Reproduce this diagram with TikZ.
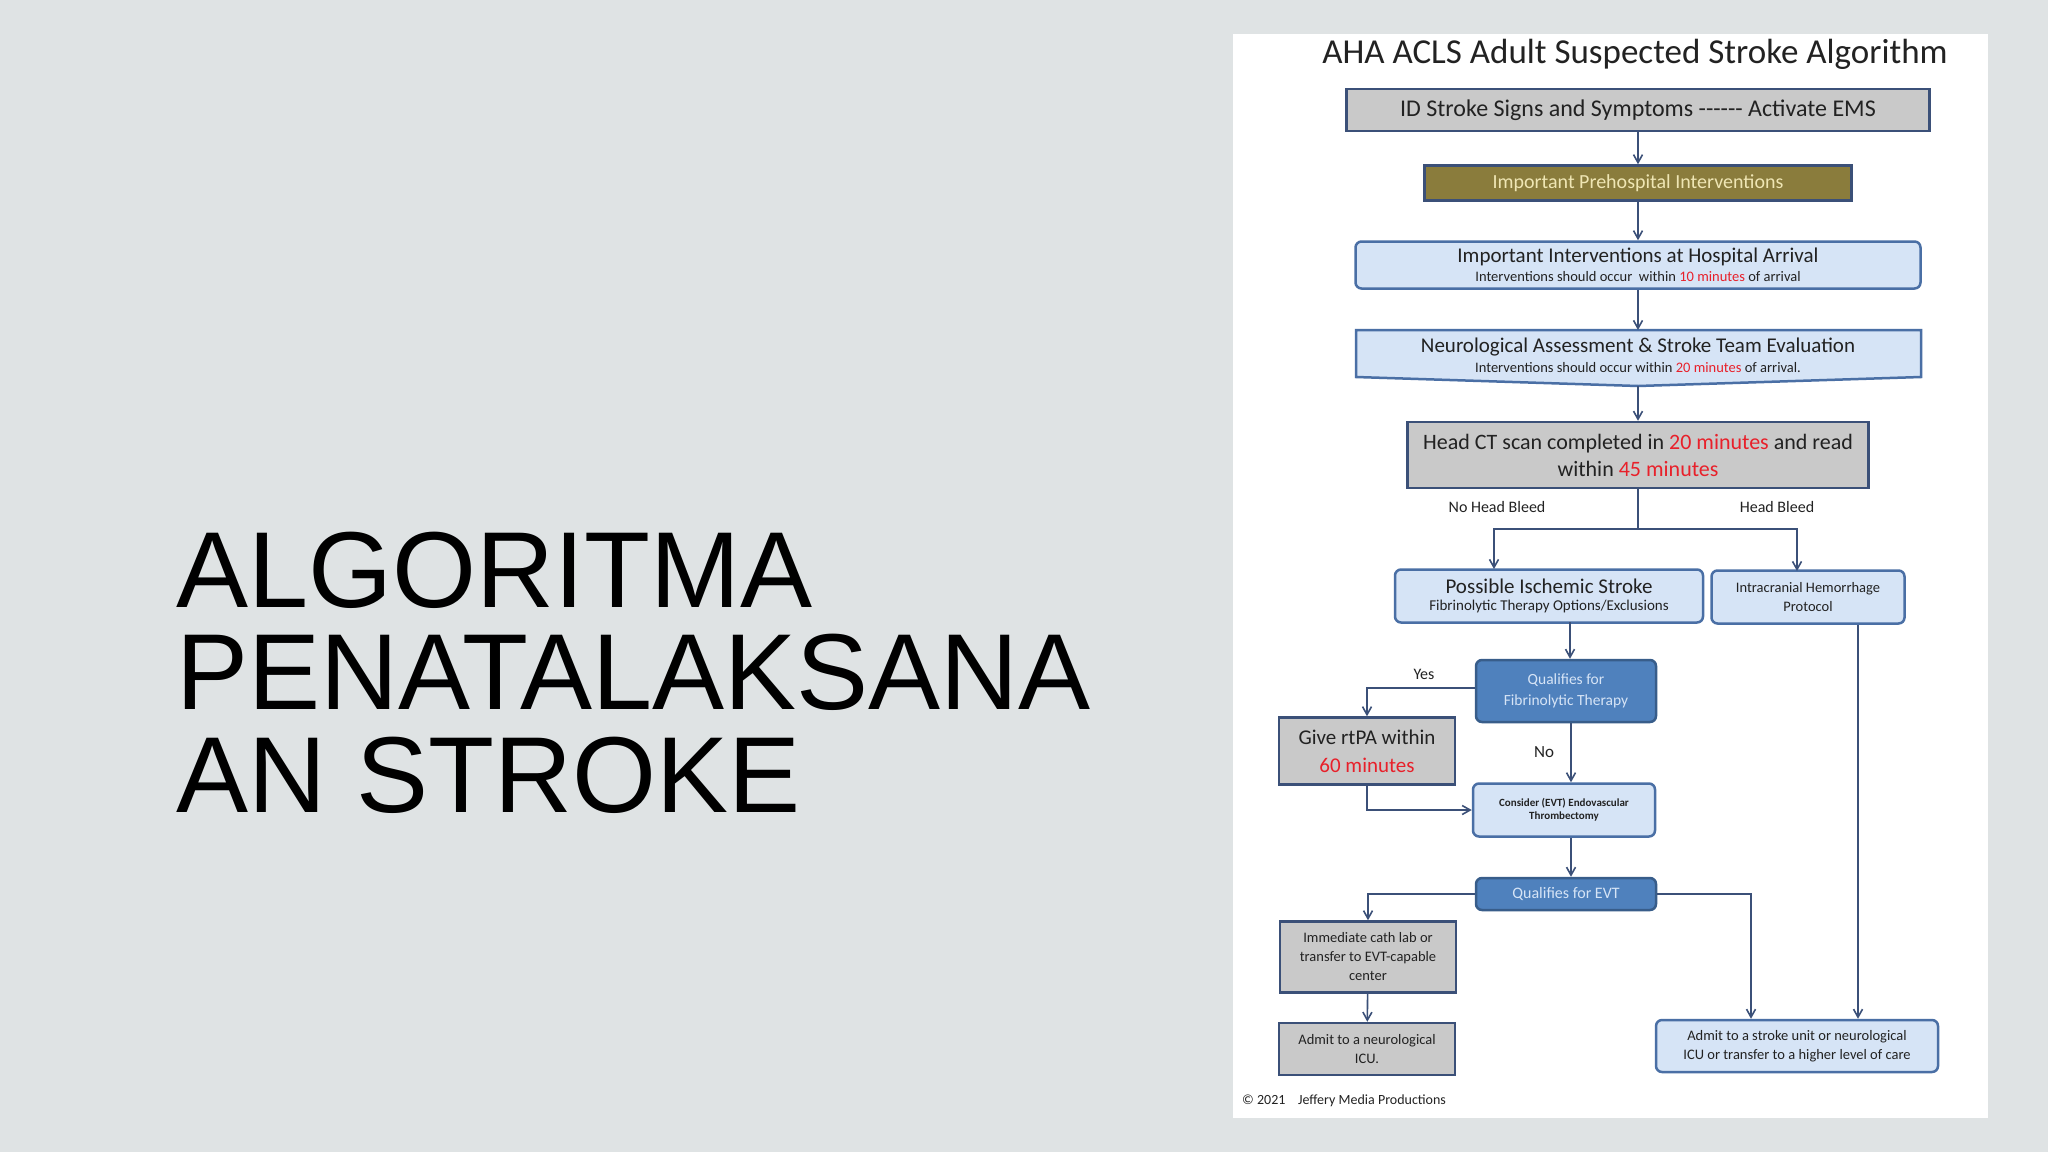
\documentclass[tikz,border=0pt]{standalone}
\usepackage{fontspec}
\setmainfont{Carlito}
\newfontfamily\arialf{Liberation Sans}
\usetikzlibrary{arrows.meta}
\definecolor{bgc}{HTML}{DFE3E4}
\definecolor{grayf}{HTML}{C9C9C9}
\definecolor{bordc}{HTML}{3B5078}
\definecolor{lblue}{HTML}{D6E4F6}
\definecolor{lbord}{HTML}{4A6FA5}
\definecolor{dblue}{HTML}{4F81BD}
\definecolor{dbord}{HTML}{385D8A}
\definecolor{olive}{HTML}{8A7C3C}
\definecolor{olivet}{HTML}{EFE6B4}
\definecolor{redt}{HTML}{E8202A}
\definecolor{dtext}{HTML}{222222}
\tikzset{
 x=1pt,y=-1pt,
 bx/.style={draw=bordc,line width=2.5pt,inner sep=2pt,align=center,text=dtext},
 graybox/.style={bx,fill=grayf},
 lbbox/.style={bx,fill=lblue,draw=lbord,rounded corners=6pt},
 dbbox/.style={bx,fill=dblue,draw=dbord,rounded corners=6pt,text=lblue},
 conn/.style={draw=bordc,line width=1.6pt,-{Straight Barb[length=8pt,width=9pt]}},
 lbl/.style={font=\fontsize{16}{18}\selectfont,text=dtext,inner sep=0pt},
}
\newcommand{\rd}[1]{\textcolor{redt}{#1}}
\begin{document}
\begin{tikzpicture}
\fill[bgc] (0,0) rectangle (2048,1152);
\useasboundingbox (0,0) rectangle (2048,1152);
\fill[white] (1233,34) rectangle (1988,1118);
% big title
\node[anchor=base west,inner sep=0pt,font=\arialf\fontsize{108}{108}\selectfont] (t1) at (176,607) {ALGORITMA};
\node[anchor=base west,inner sep=0pt,font=\arialf\fontsize{108}{108}\selectfont] (t2) at (176,709) {PENATALAKSANA};
\node[anchor=base west,inner sep=0pt,font=\arialf\fontsize{108}{108}\selectfont] (t3) at (176,812) {AN STROKE};
% diagram title
\node[font=\fontsize{35}{36}\selectfont,text=dtext] (dt) at (1635,54) {AHA ACLS Adult Suspected Stroke Algorithm};
% boxes
\node[graybox,minimum width=583,minimum height=42,font=\fontsize{24}{25}\selectfont] (b1) at (1638,110) {ID Stroke Signs and Symptoms {-}{-}{-}{-}{-}{-} Activate EMS};
\node[bx,fill=olive,draw=bordc,text=olivet,minimum width=427,minimum height=35,font=\fontsize{20}{21}\selectfont] (b2) at (1638,183) {Important Prehospital Interventions};
\node[lbbox,minimum width=565,minimum height=47] (b3) at (1638,265) {\fontsize{21}{22}\selectfont Important Interventions at Hospital Arrival\\[5pt]\fontsize{14.5}{15}\selectfont Interventions should occur\ \ within \rd{10 minutes} of arrival};
\path[fill=lblue,draw=lbord,line width=2.5pt] (1356,330) -- (1921,330) -- (1921,377) -- (1638,386) -- (1356,377) -- cycle;
\node[inner sep=0pt,align=center,text=dtext] (b4) at (1638,355) {\fontsize{21}{22}\selectfont Neurological Assessment \& Stroke Team Evaluation\\[5pt]\fontsize{14.5}{15}\selectfont Interventions should occur within \rd{20 minutes} of arrival.};
\node[graybox,minimum width=461,minimum height=66,font=\fontsize{22}{27}\selectfont] (b5) at (1638,455) {Head CT scan completed in \rd{20 minutes} and read\\within \rd{45 minutes}};
\node[lbl] (nhb) at (1497,507) {No Head Bleed};
\node[lbl] (hb) at (1777,507) {Head Bleed};
\node[lbbox,minimum width=308,minimum height=53] (b6) at (1549,596) {\fontsize{21}{22}\selectfont Possible Ischemic Stroke\\[5pt]\fontsize{15}{16}\selectfont Fibrinolytic Therapy Options/Exclusions};
\node[lbbox,minimum width=193,minimum height=53,font=\fontsize{14.5}{19}\selectfont] (b7) at (1808,597) {Intracranial Hemorrhage\\Protocol};
\node[dbbox,minimum width=180,minimum height=62,font=\fontsize{15.5}{21}\selectfont] (b8) at (1566,691) {Qualifies for\\Fibrinolytic Therapy};
\node[lbl] (yes) at (1424,674) {Yes};
\node[graybox,minimum width=176,minimum height=67,font=\fontsize{21}{28}\selectfont] (b9) at (1367,751) {Give rtPA within\\\rd{60 minutes}};
\node[lbl,font=\fontsize{17}{18}\selectfont] (no) at (1544,752) {No};
\node[lbbox,minimum width=182,minimum height=53,font=\bfseries\fontsize{11}{13}\selectfont] (b10) at (1564,810) {Consider (EVT) Endovascular\\Thrombectomy};
\node[dbbox,minimum width=180,minimum height=32,font=\fontsize{16}{17}\selectfont] (b11) at (1566,894) {Qualifies for EVT};
\node[graybox,minimum width=176,minimum height=71,font=\fontsize{14.5}{19}\selectfont] (b12) at (1368,957) {Immediate cath lab or\\transfer to EVT-capable\\center};
\node[graybox,minimum width=176,minimum height=52,font=\fontsize{14.5}{19}\selectfont] (b13) at (1367,1049) {Admit to a neurological\\ICU.};
\node[lbbox,minimum width=282,minimum height=52,font=\fontsize{14.5}{19}\selectfont] (b14) at (1797,1046) {Admit to a stroke unit or neurological\\ICU or transfer to a higher level of care};
\node[anchor=west,inner sep=0pt,font=\fontsize{14}{15}\selectfont,text=dtext] (ft) at (1242,1101) {\textcopyright\ 2021\ \ \ \ Jeffery Media Productions};
% connectors
\coordinate (s5) at (1638,529);
\draw[conn] (b1) -- (b2);
\draw[conn] (b2) -- (b3);
\draw[conn] (b3) -- (1638,330);
\draw[conn] (1638,386) -- (b5);
\draw[draw=bordc,line width=1.6pt] (b5.south) -- (s5);
\draw[conn] (s5) -| (1494,569);
\draw[conn] (s5) -| (1797,571);
\draw[conn] (1570,622) -- (b8.north -| 1570,0);
\draw[conn] (b8.west |- 0,688) -| (b9.north);
\draw[conn] (b8.south -| 1571,0) -- (b10.north -| 1571,0);
\draw[conn] (b9.south) |- (b10.west);
\draw[conn] (b10.south -| 1571,0) -- (b11.north -| 1571,0);
\draw[conn] (b11.west) -| (b12.north);
\draw[conn] (b12) -- (b13);
\draw[conn] (b11.east) -| (b14.north -| 1751,0);
\draw[conn] (b7.south -| 1858,0) -- (b14.north -| 1858,0);
\end{tikzpicture}
\end{document}
